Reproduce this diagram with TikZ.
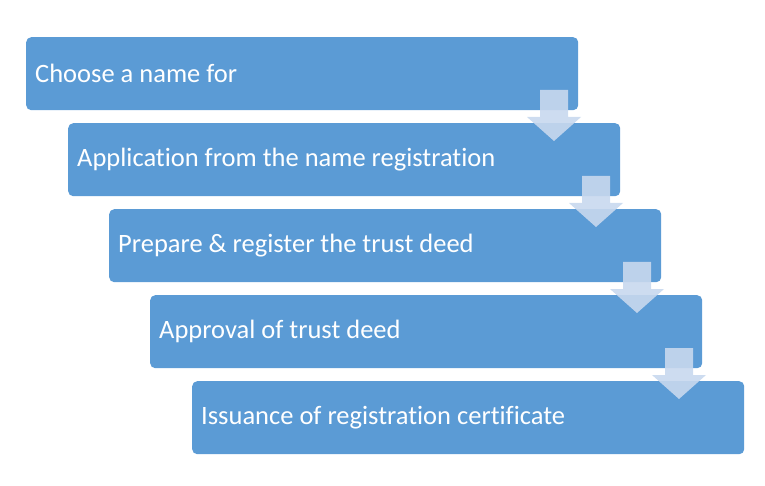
\documentclass[tikz,border=0pt]{standalone}
\usepackage{fontspec}
\setmainfont[Ligatures={NoCommon}]{Carlito}
\definecolor{boxblue}{HTML}{5B9BD5}
\definecolor{arrowblue}{RGB}{200,216,238}
\begin{document}
\begin{tikzpicture}[x=1pt,y=1pt,
  stepbox/.style={fill=boxblue, rounded corners=5pt, minimum width=552pt, minimum height=73pt, anchor=north west, inner sep=0pt},
  steptext/.style={text=white, font=\fontsize{26.5}{30}\selectfont, anchor=west, inner sep=0pt},
  downarrow/.style={fill=arrowblue, fill opacity=0.9, draw=none}]
\useasboundingbox (0,0) rectangle (765,485);
\foreach \i/\x/\y in {1/26/37, 2/68/123, 3/109/209, 4/150/295, 5/192/381} {
  \node[stepbox] (b\i) at (\x,485-\y) {};
}
\node[steptext] (t1) at ([xshift=9pt]b1.west) {Choose a name for};
\node[steptext] (t2) at ([xshift=9pt]b2.west) {Application from the name registration};
\node[steptext] (t3) at ([xshift=9pt]b3.west) {Prepare \& register the trust deed};
\node[steptext] (t4) at ([xshift=9pt]b4.west) {Approval of trust deed};
\node[steptext] (t5) at ([xshift=9pt]b5.west) {Issuance of registration certificate};
\foreach \i/\cx/\ty in {1/554/90, 2/596/176, 3/637/262, 4/679/348} {
  \fill[downarrow] (\cx-14,485-\ty) -- (\cx+14,485-\ty) -- (\cx+14,485-\ty-27) -- (\cx+27,485-\ty-27)
    -- (\cx,485-\ty-51) -- (\cx-27,485-\ty-27) -- (\cx-14,485-\ty-27) -- cycle;
}
\end{tikzpicture}
\end{document}
